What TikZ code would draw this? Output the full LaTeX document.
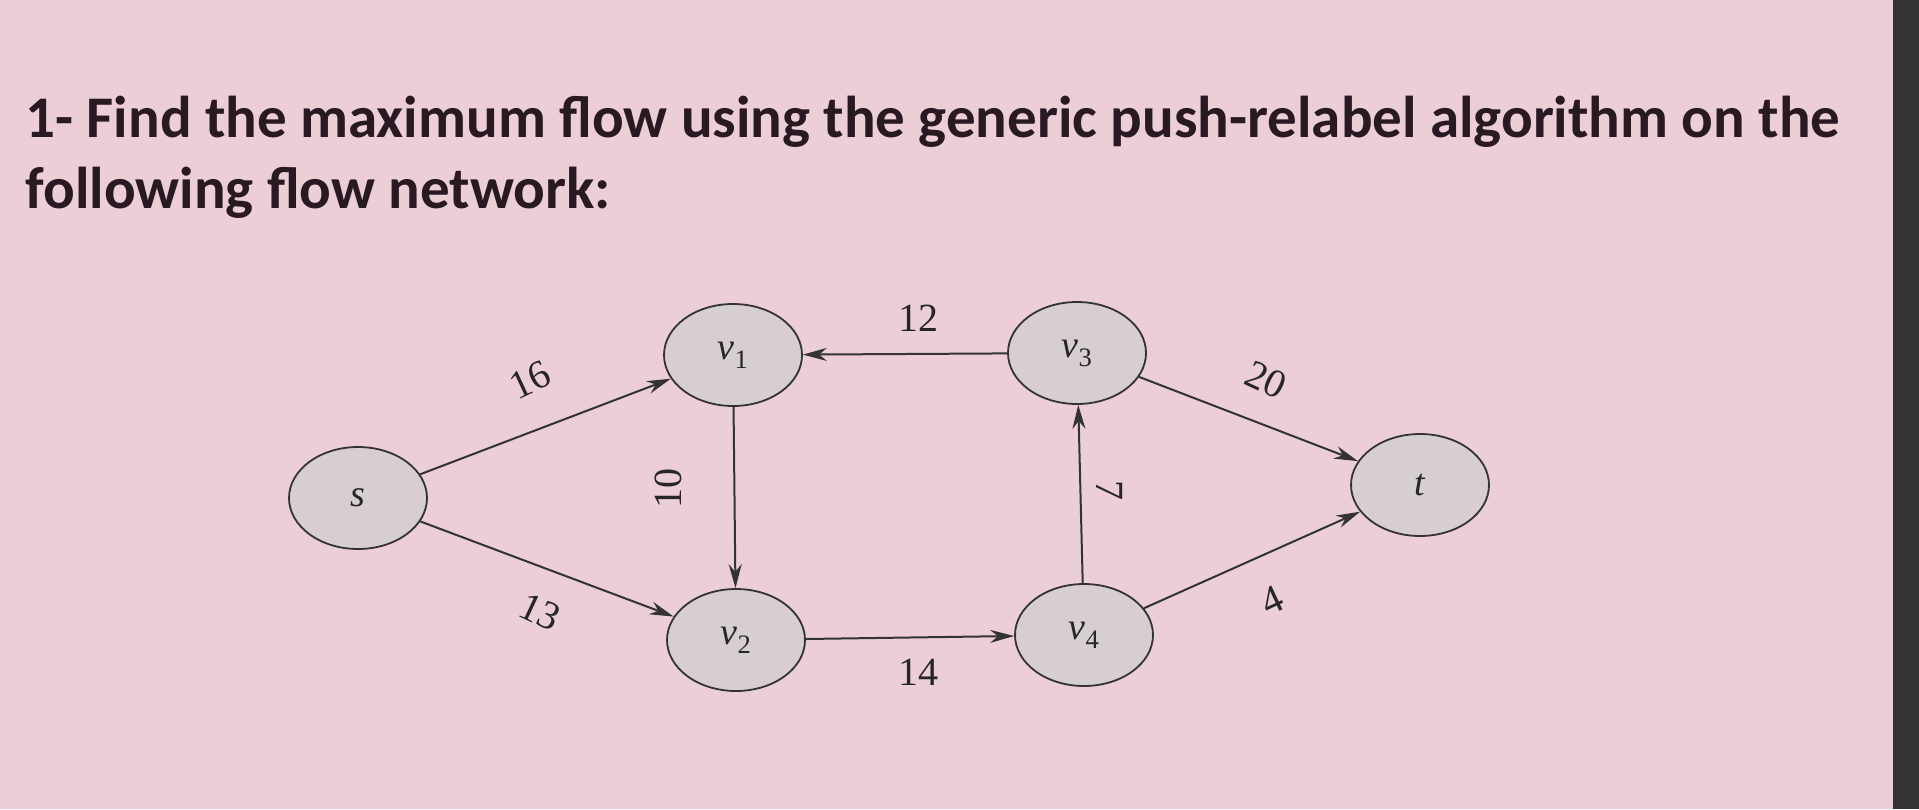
\documentclass[tikz,border=0pt]{standalone}
\usepackage{fontspec}
\setmainfont{Liberation Serif}
\newfontfamily\titlefont{Carlito}
\usetikzlibrary{shapes.geometric,arrows.meta}
\definecolor{bg}{RGB}{236,206,214}
\definecolor{nodefill}{RGB}{214,206,210}
\definecolor{titlecol}{RGB}{40,25,35}
\begin{document}
\begin{tikzpicture}[x=1pt,y=-1pt,
  vert/.style={ellipse,draw=black!80,line width=1.8pt,fill=nodefill,minimum width=138pt,minimum height=102pt,font=\fontsize{38}{38}\selectfont\itshape,text=black!85},
  edge/.style={-{Stealth[length=24pt,width=13pt]},line width=2pt,black!80},
  lab/.style={font=\fontsize{40}{40}\selectfont,text=black!85}]
\fill[bg] (0,0) rectangle (1919,809);
\fill[black!80] (1893,0) rectangle (1919,809);
\useasboundingbox (0,0) rectangle (1919,809);
\node[anchor=base west,text=titlecol,font=\titlefont\bfseries\fontsize{59}{59}\selectfont] (t1) at (22,137) {1- Find the maximum flow using the generic push-relabel algorithm on the};
\node[anchor=base west,text=titlecol,font=\titlefont\bfseries\fontsize{59}{59}\selectfont] (t2) at (22,208) {following flow network:};
\node[vert] (s) at (358,498) {s};
\node[vert] (v1) at (733,355) {v\textsubscript{\upshape 1}};
\node[vert] (v2) at (736,640) {v\textsubscript{\upshape 2}};
\node[vert] (v3) at (1077,353) {v\textsubscript{\upshape 3}};
\node[vert] (v4) at (1084,635) {v\textsubscript{\upshape 4}};
\node[vert] (t) at (1420,485) {t};
\draw[edge] (s) -- (v1);
\draw[edge] (s) -- (v2);
\draw[edge] (v3) -- (v1);
\draw[edge] (v1) -- (v2);
\draw[edge] (v2) -- (v4);
\draw[edge] (v4) -- (v3);
\draw[edge] (v3) -- (t);
\draw[edge] (v4) -- (t);
\node[lab,rotate=25] (l16) at (530,380) {16};
\node[lab,rotate=-25] (l13) at (540,612) {13};
\node[lab] (l12) at (918,318) {12};
\node[lab,rotate=90] (l10) at (668,488) {10};
\node[lab] (l14) at (918,672) {14};
\node[lab,rotate=-90] (l7) at (1110,490) {7};
\node[lab,rotate=-25] (l20) at (1266,380) {20};
\node[lab,rotate=25] (l4) at (1272,600) {4};
\end{tikzpicture}
\end{document}
